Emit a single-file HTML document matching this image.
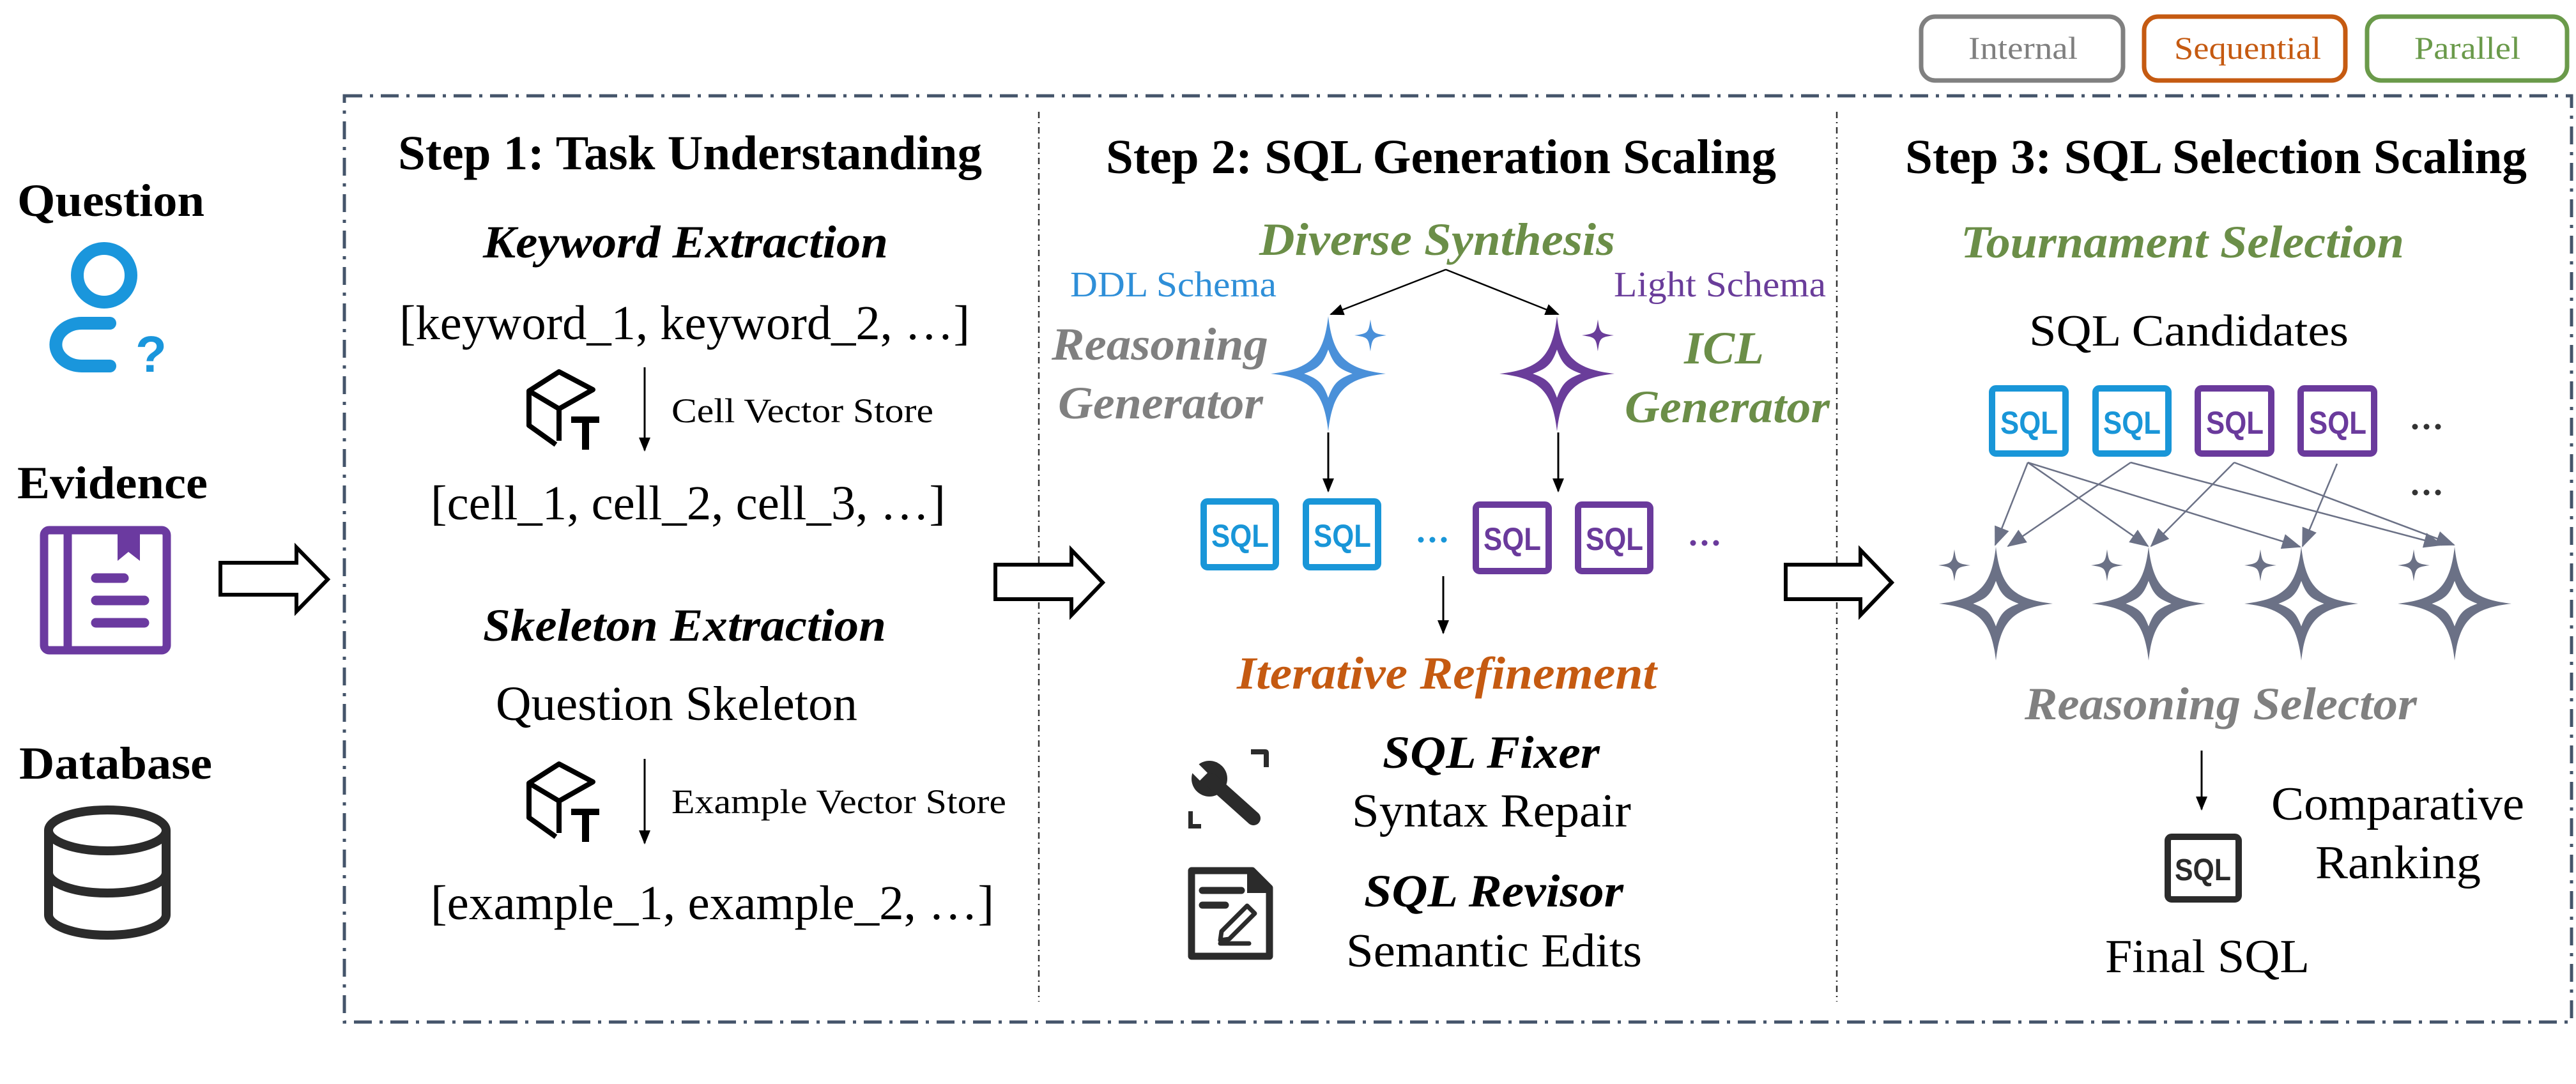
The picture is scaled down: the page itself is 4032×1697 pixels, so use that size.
<!DOCTYPE html>
<html><head><meta charset="utf-8"><style>
html,body{margin:0;padding:0;background:#fff;}
svg{display:block;}
text{font-family:"Liberation Serif",serif;}
.b{font-weight:bold;}
.bi{font-weight:bold;font-style:italic;}
.sq{font-family:"Liberation Sans",sans-serif;font-weight:bold;}
</style></head><body>
<svg width="4032" height="1697" viewBox="0 0 4032 1697" xmlns="http://www.w3.org/2000/svg">
<defs>
<marker id="ah" markerWidth="10" markerHeight="10" refX="9" refY="5" orient="auto" markerUnits="userSpaceOnUse" viewBox="0 0 10 10">
<path d="M0,0 L10,5 L0,10 Z" fill="#000"/></marker>
<marker id="ahb" markerWidth="22" markerHeight="22" refX="20" refY="11" orient="auto" markerUnits="userSpaceOnUse">
<path d="M0,2 L22,11 L0,20 Z" fill="#000"/></marker>
<marker id="ahg" markerWidth="30" markerHeight="30" refX="28" refY="15" orient="auto" markerUnits="userSpaceOnUse">
<path d="M0,3 L30,15 L0,27 Z" fill="#6b7186"/></marker>
</defs>

<!-- legend -->
<rect x="3007" y="26" width="316" height="100" rx="22" fill="none" stroke="#808080" stroke-width="7"/>
<rect x="3356" y="26" width="315" height="100" rx="22" fill="none" stroke="#c55a11" stroke-width="7"/>
<rect x="3705" y="26" width="313" height="100" rx="22" fill="none" stroke="#6a9a4a" stroke-width="7"/>
<text x="3081" y="92" font-size="50" fill="#7f7f7f" textLength="171" lengthAdjust="spacingAndGlyphs">Internal</text>
<text x="3403" y="92" font-size="50" fill="#c55a11" textLength="230" lengthAdjust="spacingAndGlyphs">Sequential</text>
<text x="3779" y="92" font-size="50" fill="#6a9a4a" textLength="166" lengthAdjust="spacingAndGlyphs">Parallel</text>

<!-- outer box -->
<rect x="539" y="150" width="3486" height="1450" fill="none" stroke="#44546a" stroke-width="5" stroke-dasharray="28 12 5 12"/>
<line x1="1626" y1="175" x2="1626" y2="1568" stroke="#333" stroke-width="2.5" stroke-dasharray="10 6 2 6"/>
<line x1="2875" y1="175" x2="2875" y2="1568" stroke="#333" stroke-width="2.5" stroke-dasharray="10 6 2 6"/>

<!-- left inputs -->
<text class="b" x="27" y="338" font-size="72" textLength="293" lengthAdjust="spacingAndGlyphs">Question</text>
<text class="b" x="27" y="780" font-size="72" textLength="298" lengthAdjust="spacingAndGlyphs">Evidence</text>
<text class="b" x="30" y="1219" font-size="72" textLength="302" lengthAdjust="spacingAndGlyphs">Database</text>
<!-- question icon -->
<circle cx="163" cy="431" r="42" fill="none" stroke="#1a96dc" stroke-width="20"/>
<path d="M172,506 H128 A40,33 0 0 0 128,573 H172" fill="none" stroke="#1a96dc" stroke-width="20" stroke-linecap="round"/>
<text class="b" x="212" y="582" font-size="80" fill="#1a96dc" font-family="Liberation Sans,sans-serif" style="font-family:'Liberation Sans',sans-serif">?</text>
<!-- evidence icon -->
<rect x="69" y="830" width="192" height="188" rx="8" fill="none" stroke="#6b3aa0" stroke-width="13"/>
<line x1="106" y1="830" x2="106" y2="1018" stroke="#6b3aa0" stroke-width="13"/>
<path d="M184,830 V878 L201,864 L219,878 V830 Z" fill="#6b3aa0"/>
<line x1="150" y1="905" x2="194" y2="905" stroke="#6b3aa0" stroke-width="15" stroke-linecap="round"/>
<line x1="150" y1="940" x2="226" y2="940" stroke="#6b3aa0" stroke-width="15" stroke-linecap="round"/>
<line x1="150" y1="975" x2="226" y2="975" stroke="#6b3aa0" stroke-width="15" stroke-linecap="round"/>
<!-- database icon -->
<g fill="none" stroke="#2b2b2b" stroke-width="14">
<ellipse cx="168" cy="1300" rx="92" ry="32"/>
<path d="M76,1300 V1432 A92,32 0 0 0 260,1432 V1300"/>
<path d="M76,1366 A92,32 0 0 0 260,1366"/>
</g>

<!-- hollow arrows -->
<path d="M345,881 H464 V857 L513,907 L464,957 V931 H345 Z" fill="#fff" stroke="#000" stroke-width="6" stroke-linejoin="miter"/>
<path d="M1558,884 H1677 V861 L1726,912 L1677,963 V938 H1558 Z" fill="#fff" stroke="#000" stroke-width="6"/>
<path d="M2795,884 H2912 V861 L2961,912 L2912,963 V938 H2795 Z" fill="#fff" stroke="#000" stroke-width="6"/>

<!-- STEP 1 -->
<text class="b" x="623" y="265" font-size="76" textLength="914" lengthAdjust="spacingAndGlyphs">Step 1: Task Understanding</text>
<text class="bi" x="756" y="403" font-size="72" textLength="634" lengthAdjust="spacingAndGlyphs">Keyword Extraction</text>
<text x="625" y="531" font-size="76" textLength="893" lengthAdjust="spacingAndGlyphs">[keyword_1, keyword_2, …]</text>
<text x="1051" y="661" font-size="54" textLength="410" lengthAdjust="spacingAndGlyphs">Cell Vector Store</text>
<text x="674" y="813" font-size="76" textLength="806" lengthAdjust="spacingAndGlyphs">[cell_1, cell_2, cell_3, …]</text>
<text class="bi" x="756" y="1003" font-size="72" textLength="631" lengthAdjust="spacingAndGlyphs">Skeleton Extraction</text>
<text x="776" y="1127" font-size="76" textLength="566" lengthAdjust="spacingAndGlyphs">Question Skeleton</text>
<text x="1051" y="1273" font-size="54" textLength="524" lengthAdjust="spacingAndGlyphs">Example Vector Store</text>
<text x="674" y="1439" font-size="76" textLength="882" lengthAdjust="spacingAndGlyphs">[example_1, example_2, …]</text>
<line x1="1009" y1="575" x2="1009" y2="705" stroke="#000" stroke-width="3" marker-end="url(#ahb)"/>
<line x1="1009" y1="1188" x2="1009" y2="1320" stroke="#000" stroke-width="3" marker-end="url(#ahb)"/>
<!-- cube icons -->
<g fill="none" stroke="#000" stroke-width="8" stroke-linejoin="round">
<path d="M828,612 L875,582 L928,610 L875,640 Z M828,612 V666 L870,696 M875,640 V690"/>
<path d="M828,1226 L875,1196 L928,1224 L875,1254 Z M828,1226 V1280 L870,1310 M875,1254 V1304"/>
</g>
<g fill="#000">
<rect x="894" y="652" width="44" height="10"/><rect x="911" y="652" width="11" height="52"/>
<rect x="894" y="1266" width="44" height="10"/><rect x="911" y="1266" width="11" height="52"/>
</g>

<!-- STEP 2 -->
<text class="b" x="1731" y="271" font-size="76" textLength="1049" lengthAdjust="spacingAndGlyphs">Step 2: SQL Generation Scaling</text>
<text class="bi" x="1971" y="399" font-size="72" fill="#6b8e48" textLength="557" lengthAdjust="spacingAndGlyphs">Diverse Synthesis</text>
<text x="1675" y="464" font-size="56" fill="#2f8fd8" textLength="323" lengthAdjust="spacingAndGlyphs">DDL Schema</text>
<text x="2526" y="464" font-size="56" fill="#6a3d9a" textLength="332" lengthAdjust="spacingAndGlyphs">Light Schema</text>
<text class="bi" x="1646" y="563" font-size="72" fill="#808080" textLength="339" lengthAdjust="spacingAndGlyphs">Reasoning</text>
<text class="bi" x="1656" y="655" font-size="72" fill="#808080" textLength="321" lengthAdjust="spacingAndGlyphs">Generator</text>
<text class="bi" x="2636" y="569" font-size="72" fill="#6b8e48" textLength="125" lengthAdjust="spacingAndGlyphs">ICL</text>
<text class="bi" x="2543" y="661" font-size="72" fill="#6b8e48" textLength="321" lengthAdjust="spacingAndGlyphs">Generator</text>
<line x1="2263" y1="422" x2="2083" y2="492" stroke="#000" stroke-width="2.5" marker-end="url(#ahb)"/>
<line x1="2263" y1="422" x2="2439" y2="492" stroke="#000" stroke-width="2.5" marker-end="url(#ahb)"/>
<!-- stars step2 -->
<g transform="translate(2079,585) scale(0.9)"><path fill="#4a90d9" fill-rule="evenodd" d="M0,-100 C8,-30 30,-8 100,0 C30,8 8,30 0,100 C-8,30 -30,8 -100,0 C-30,-8 -8,-30 0,-100 Z M0,-42 C9,-17 17,-9 42,0 C17,9 9,17 0,42 C-9,17 -17,9 -42,0 C-17,-9 -9,-17 0,-42 Z"/></g>
<g transform="translate(2145,525) scale(0.25)"><path fill="#4a90d9" d="M0,-100 C12,-15 15,-12 100,0 C15,12 12,15 0,100 C-12,15 -15,12 -100,0 C-15,-12 -12,-15 0,-100 Z"/></g>
<g transform="translate(2437,585) scale(0.9)"><path fill="#6a3d9a" fill-rule="evenodd" d="M0,-100 C8,-30 30,-8 100,0 C30,8 8,30 0,100 C-8,30 -30,8 -100,0 C-30,-8 -8,-30 0,-100 Z M0,-42 C9,-17 17,-9 42,0 C17,9 9,17 0,42 C-9,17 -17,9 -42,0 C-17,-9 -9,-17 0,-42 Z"/></g>
<g transform="translate(2501,525) scale(0.25)"><path fill="#6a3d9a" d="M0,-100 C12,-15 15,-12 100,0 C15,12 12,15 0,100 C-12,15 -15,12 -100,0 C-15,-12 -12,-15 0,-100 Z"/></g>
<line x1="2079" y1="677" x2="2079" y2="769" stroke="#000" stroke-width="3" marker-end="url(#ahb)"/>
<line x1="2439" y1="677" x2="2439" y2="769" stroke="#000" stroke-width="3" marker-end="url(#ahb)"/>
<!-- SQL boxes step2 -->
<g fill="none" stroke-width="10">
<rect x="1884" y="785" width="113" height="103" rx="6" stroke="#1996d8"/>
<rect x="2044" y="785" width="113" height="103" rx="6" stroke="#1996d8"/>
<rect x="2310" y="790" width="114" height="104" rx="6" stroke="#6a3a9c"/>
<rect x="2470" y="790" width="113" height="104" rx="6" stroke="#6a3a9c"/>
</g>
<text class="sq" x="1896" y="856" font-size="50" fill="#1996d8" textLength="90" lengthAdjust="spacingAndGlyphs">SQL</text>
<text class="sq" x="2056" y="856" font-size="50" fill="#1996d8" textLength="90" lengthAdjust="spacingAndGlyphs">SQL</text>
<text class="sq" x="2322" y="861" font-size="50" fill="#6a3a9c" textLength="90" lengthAdjust="spacingAndGlyphs">SQL</text>
<text class="sq" x="2482" y="861" font-size="50" fill="#6a3a9c" textLength="90" lengthAdjust="spacingAndGlyphs">SQL</text>
<g fill="#1996d8"><circle cx="2224" cy="845" r="4.5"/><circle cx="2242" cy="845" r="4.5"/><circle cx="2260" cy="845" r="4.5"/></g>
<g fill="#6a3a9c"><circle cx="2650" cy="850" r="4.5"/><circle cx="2668" cy="850" r="4.5"/><circle cx="2686" cy="850" r="4.5"/></g>
<line x1="2259" y1="902" x2="2259" y2="991" stroke="#000" stroke-width="3" marker-end="url(#ahb)"/>
<text class="bi" x="1936" y="1078" font-size="72" fill="#c55a11" textLength="657" lengthAdjust="spacingAndGlyphs">Iterative Refinement</text>
<text class="bi" x="2164" y="1202" font-size="72" textLength="340" lengthAdjust="spacingAndGlyphs">SQL Fixer</text>
<text x="2116" y="1294" font-size="74" textLength="437" lengthAdjust="spacingAndGlyphs">Syntax Repair</text>
<text class="bi" x="2135" y="1419" font-size="72" textLength="406" lengthAdjust="spacingAndGlyphs">SQL Revisor</text>
<text x="2107" y="1513" font-size="74" textLength="463" lengthAdjust="spacingAndGlyphs">Semantic Edits</text>
<!-- wrench -->
<g fill="#2b2b2b">
<path d="M1958,1173 H1980 Q1986,1173 1986,1179 V1201 H1978 V1181 H1958 Z"/>
<path d="M1860,1270 H1867 V1290 H1880 V1297 H1860 Z"/>
<circle cx="1893" cy="1219" r="28"/>
<line x1="1895" y1="1221" x2="1962" y2="1281" stroke="#2b2b2b" stroke-width="22" stroke-linecap="round"/>
</g>
<path d="M1870,1190 L1890,1210 L1878,1222 L1862,1206 Z" fill="#fff"/>
<!-- document -->
<path d="M1865,1363 H1960 L1987,1390 V1497 H1865 Z" fill="none" stroke="#2b2b2b" stroke-width="11" stroke-linejoin="round"/>
<path d="M1955,1362 V1395 H1990" fill="#2b2b2b" stroke="#2b2b2b" stroke-width="6"/>
<line x1="1882" y1="1394" x2="1943" y2="1394" stroke="#2b2b2b" stroke-width="11" stroke-linecap="round"/>
<line x1="1882" y1="1417" x2="1918" y2="1417" stroke="#2b2b2b" stroke-width="11" stroke-linecap="round"/>
<path d="M1910,1472 L1912,1458 L1952,1418 L1964,1430 L1924,1470 Z" fill="none" stroke="#2b2b2b" stroke-width="7" stroke-linejoin="round"/>
<line x1="1910" y1="1477" x2="1955" y2="1477" stroke="#2b2b2b" stroke-width="7" stroke-linecap="round"/>

<!-- STEP 3 -->
<text class="b" x="2982" y="271" font-size="76" textLength="973" lengthAdjust="spacingAndGlyphs">Step 3: SQL Selection Scaling</text>
<text class="bi" x="3069" y="403" font-size="72" fill="#6b8e48" textLength="694" lengthAdjust="spacingAndGlyphs">Tournament Selection</text>
<text x="3176" y="541" font-size="70" textLength="500" lengthAdjust="spacingAndGlyphs">SQL Candidates</text>
<g fill="none" stroke-width="10">
<rect x="3118" y="608" width="115" height="102" rx="6" stroke="#1996d8"/>
<rect x="3280" y="608" width="114" height="102" rx="6" stroke="#1996d8"/>
<rect x="3440" y="608" width="115" height="102" rx="6" stroke="#6a3a9c"/>
<rect x="3601" y="608" width="115" height="102" rx="6" stroke="#6a3a9c"/>
</g>
<text class="sq" x="3131" y="679" font-size="50" fill="#1996d8" textLength="90" lengthAdjust="spacingAndGlyphs">SQL</text>
<text class="sq" x="3292" y="679" font-size="50" fill="#1996d8" textLength="90" lengthAdjust="spacingAndGlyphs">SQL</text>
<text class="sq" x="3453" y="679" font-size="50" fill="#6a3a9c" textLength="90" lengthAdjust="spacingAndGlyphs">SQL</text>
<text class="sq" x="3614" y="679" font-size="50" fill="#6a3a9c" textLength="90" lengthAdjust="spacingAndGlyphs">SQL</text>
<g fill="#333"><circle cx="3780" cy="668" r="4.5"/><circle cx="3798" cy="668" r="4.5"/><circle cx="3816" cy="668" r="4.5"/>
<circle cx="3780" cy="771" r="4.5"/><circle cx="3798" cy="771" r="4.5"/><circle cx="3816" cy="771" r="4.5"/></g>
<g stroke="#6b7186" stroke-width="2.5" marker-end="url(#ahg)">
<line x1="3174" y1="724" x2="3123" y2="853"/>
<line x1="3174" y1="724" x2="3362" y2="855"/>
<line x1="3174" y1="724" x2="3600" y2="856"/>
<line x1="3335" y1="724" x2="3143" y2="855"/>
<line x1="3335" y1="724" x2="3822" y2="853"/>
<line x1="3497" y1="724" x2="3367" y2="855"/>
<line x1="3497" y1="724" x2="3841" y2="853"/>
<line x1="3658" y1="726" x2="3604" y2="855"/>
</g>
<!-- gray stars -->
<g fill="#6b7186">
<g transform="translate(3124,945) scale(0.89)"><path fill-rule="evenodd" d="M0,-100 C8,-30 30,-8 100,0 C30,8 8,30 0,100 C-8,30 -30,8 -100,0 C-30,-8 -8,-30 0,-100 Z M0,-40 C9,-16 16,-9 40,0 C16,9 9,16 0,40 C-9,16 -16,9 -40,0 C-16,-9 -9,-16 0,-40 Z"/></g>
<g transform="translate(3363,945) scale(0.89)"><path fill-rule="evenodd" d="M0,-100 C8,-30 30,-8 100,0 C30,8 8,30 0,100 C-8,30 -30,8 -100,0 C-30,-8 -8,-30 0,-100 Z M0,-40 C9,-16 16,-9 40,0 C16,9 9,16 0,40 C-9,16 -16,9 -40,0 C-16,-9 -9,-16 0,-40 Z"/></g>
<g transform="translate(3602,945) scale(0.89)"><path fill-rule="evenodd" d="M0,-100 C8,-30 30,-8 100,0 C30,8 8,30 0,100 C-8,30 -30,8 -100,0 C-30,-8 -8,-30 0,-100 Z M0,-40 C9,-16 16,-9 40,0 C16,9 9,16 0,40 C-9,16 -16,9 -40,0 C-16,-9 -9,-16 0,-40 Z"/></g>
<g transform="translate(3842,945) scale(0.89)"><path fill-rule="evenodd" d="M0,-100 C8,-30 30,-8 100,0 C30,8 8,30 0,100 C-8,30 -30,8 -100,0 C-30,-8 -8,-30 0,-100 Z M0,-40 C9,-16 16,-9 40,0 C16,9 9,16 0,40 C-9,16 -16,9 -40,0 C-16,-9 -9,-16 0,-40 Z"/></g>
<g transform="translate(3059,885) scale(0.25)"><path d="M0,-100 C12,-15 15,-12 100,0 C15,12 12,15 0,100 C-12,15 -15,12 -100,0 C-15,-12 -12,-15 0,-100 Z"/></g>
<g transform="translate(3298,885) scale(0.25)"><path d="M0,-100 C12,-15 15,-12 100,0 C15,12 12,15 0,100 C-12,15 -15,12 -100,0 C-15,-12 -12,-15 0,-100 Z"/></g>
<g transform="translate(3538,885) scale(0.25)"><path d="M0,-100 C12,-15 15,-12 100,0 C15,12 12,15 0,100 C-12,15 -15,12 -100,0 C-15,-12 -12,-15 0,-100 Z"/></g>
<g transform="translate(3778,885) scale(0.25)"><path d="M0,-100 C12,-15 15,-12 100,0 C15,12 12,15 0,100 C-12,15 -15,12 -100,0 C-15,-12 -12,-15 0,-100 Z"/></g>
</g>
<text class="bi" x="3169" y="1126" font-size="72" fill="#808080" textLength="614" lengthAdjust="spacingAndGlyphs">Reasoning Selector</text>
<line x1="3446" y1="1175" x2="3446" y2="1267" stroke="#000" stroke-width="3" marker-end="url(#ahb)"/>
<rect x="3393" y="1310" width="111" height="98" rx="6" fill="none" stroke="#2b2b2b" stroke-width="10"/>
<text class="sq" x="3404" y="1378" font-size="48" fill="#2b2b2b" textLength="88" lengthAdjust="spacingAndGlyphs">SQL</text>
<text x="3555" y="1283" font-size="74" textLength="396" lengthAdjust="spacingAndGlyphs">Comparative</text>
<text x="3624" y="1375" font-size="74" textLength="259" lengthAdjust="spacingAndGlyphs">Ranking</text>
<text x="3295" y="1522" font-size="74" textLength="320" lengthAdjust="spacingAndGlyphs">Final SQL</text>
</svg>
</body></html>
